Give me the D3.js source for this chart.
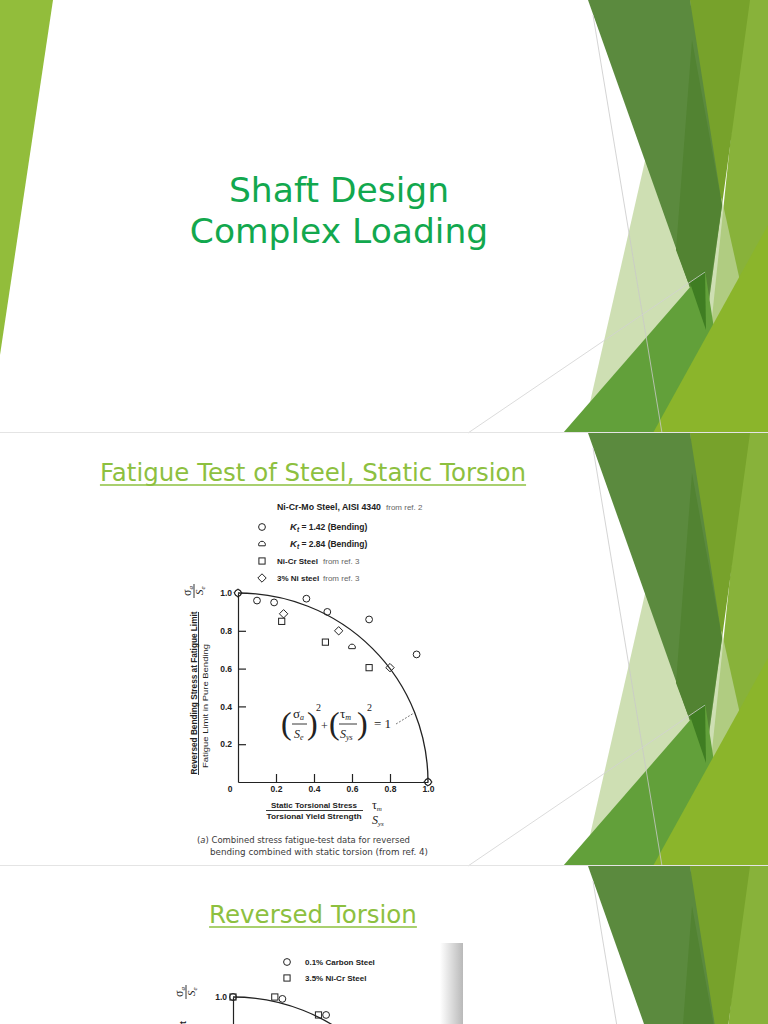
<!DOCTYPE html>
<html>
<head>
<meta charset="utf-8">
<script src="https://cdn.jsdelivr.net/npm/d3@7"></script>
<style>
  body { margin: 0; overflow: hidden; background: #fff; }
  svg { display: block; }
</style>
</head>
<body>
<div id="page"></div>
<script>
// chart 1 : bending + static torsion
const kt142X = [0, 0.1, 0.19, 0.36, 0.47, 0.69, 0.94, 1.0]
const kt142Y = [1.0, 0.96, 0.95, 0.97, 0.9, 0.86, 0.675, 0]
const kt284X = [0.6]
const kt284Y = [0.715]
const niCrX = [0.23, 0.46, 0.69]
const niCrY = [0.85, 0.74, 0.605]
const ni3X = [0, 0.24, 0.53, 0.8, 1.0]
const ni3Y = [1.0, 0.89, 0.8, 0.605, 0]
const xTicks = [0.2, 0.4, 0.6, 0.8, 1.0]
const yTicks = [0.2, 0.4, 0.6, 0.8, 1.0]

// chart 2 : reversed torsion (only the top is visible)
const carbonX = [0, 0.26, 0.49]
const carbonY = [1.0, 0.99, 0.905]
const niCr35X = [0, 0.22, 0.45]
const niCr35Y = [1.0, 1.0, 0.905]
const y2Ticks = [1.0]

const W = 768
const H = 1024
const slideTops = [0, 433, 866]

const svg = d3
  .select('#page')
  .append('svg')
  .attr('width', W)
  .attr('height', H)

// ---------- slide decoration ----------
const deco = [
  { pts: [[745, 0], [768, 0], [768, 433], [700, 433]], fill: '#88b23a' },
  { pts: [[690, 0], [750, 0], [722, 205], [705, 330]], fill: '#77a22b' },
  { pts: [[668, 60], [722, 200], [742, 290], [700, 433], [583, 433]], fill: '#bdd49a', op: 0.75 },
  { pts: [[588, 0], [690, 0], [722, 205], [705, 330]], fill: '#5b8a3e' },
  { pts: [[692, 40], [722, 205], [704, 325], [676, 250]], fill: '#528332' },
  { pts: [[563, 433], [705, 270], [730, 433]], fill: '#62a03a' },
  { pts: [[690, 283], [705, 270], [706, 330]], fill: '#3f7d22' },
  { pts: [[768, 225], [653, 433], [768, 433]], fill: '#8bb52b' }
]

slideTops.forEach((top, i) => {
  const g = svg.append('g').attr('transform', 'translate(0,' + top + ')')
  if (i > 0) {
    g.append('line')
      .attr('x1', 0).attr('x2', W)
      .attr('y1', -0.5).attr('y2', -0.5)
      .attr('stroke', '#e4e4e4')
  }
  if (i === 0) {
    g.append('polygon')
      .attr('points', '0,0 53,0 0,355')
      .attr('fill', '#92bd3b')
  }
  g.selectAll('.deco')
    .data(deco)
    .enter()
    .append('polygon')
    .attr('class', 'deco')
    .attr('points', d => d.pts.map(p => p.join(',')).join(' '))
    .attr('fill', d => d.fill)
    .attr('opacity', d => d.op || 1)
  g.append('line')
    .attr('x1', 593).attr('y1', 15).attr('x2', 662).attr('y2', 433)
    .attr('stroke', '#c9c9c9').attr('stroke-width', 0.8)
  g.append('line')
    .attr('x1', 468).attr('y1', 433).attr('x2', 705).attr('y2', 272)
    .attr('stroke', '#d2d2d2').attr('stroke-width', 0.8)
  g.append('line')
    .attr('x1', 563).attr('x2', W)
    .attr('y1', 432.5).attr('y2', 432.5)
    .attr('stroke', '#6f7f60').attr('stroke-width', 1)
})

// ---------- titles ----------
const titleFont = "'DejaVu Sans', Verdana, sans-serif"
svg.append('text')
  .attr('x', 339).attr('y', 202)
  .attr('text-anchor', 'middle')
  .attr('font-family', titleFont)
  .attr('font-size', 34.5)
  .attr('fill', '#12a84e')
  .text('Shaft Design')
svg.append('text')
  .attr('x', 339).attr('y', 243)
  .attr('text-anchor', 'middle')
  .attr('font-family', titleFont)
  .attr('font-size', 34.5)
  .attr('fill', '#12a84e')
  .text('Complex Loading')

function heading(txt, cx, baseline) {
  const t = svg.append('text')
    .attr('x', cx).attr('y', baseline)
    .attr('text-anchor', 'middle')
    .attr('font-family', titleFont)
    .attr('font-size', 24.5)
    .attr('fill', '#8dc03f')
    .text(txt)
  const w = t.node().getComputedTextLength()
  svg.append('line')
    .attr('x1', cx - w / 2).attr('x2', cx + w / 2)
    .attr('y1', baseline + 4).attr('y2', baseline + 4)
    .attr('stroke', '#8dc03f').attr('stroke-width', 1.5)
}
heading('Fatigue Test of Steel, Static Torsion', 313, 481)
heading('Reversed Torsion', 313, 923)

// ---------- marker helpers ----------
const ink = '#222'
const scanFont = "'Liberation Sans', Arial, sans-serif"
const serif = "'Liberation Serif', 'Times New Roman', serif"

function marker(sel, kind) {
  if (kind === 'circle') {
    sel.append('circle').attr('r', 3.4)
  } else if (kind === 'square') {
    sel.append('rect').attr('x', -3.1).attr('y', -3.1).attr('width', 6.2).attr('height', 6.2)
  } else if (kind === 'diamond') {
    sel.append('path').attr('d', 'M0,-4.2L4.2,0L0,4.2L-4.2,0Z')
  } else {
    sel.append('path').attr('d', 'M-3.2,1.8A3.4,3.4 0 1 1 3.2,1.8Z')
  }
  sel.selectAll('circle,rect,path')
    .attr('fill', 'none')
    .attr('stroke', ink)
    .attr('stroke-width', 1)
}

function plotSeries(g, xs, ys, xScale, yScale, kind) {
  const pts = xs.map((v, i) => ({ x: v, y: ys[i] }))
  g.selectAll('.pt-' + kind + xs.length)
    .data(pts)
    .enter()
    .append('g')
    .attr('class', 'pt-' + kind + xs.length)
    .attr('transform', d => 'translate(' + xScale(d.x) + ',' + yScale(d.y) + ')')
    .each(function() { marker(d3.select(this), kind) })
}

function styleAxis(g) {
  g.attr('font-family', scanFont).attr('font-size', 8.5).attr('font-weight', 'bold')
  g.selectAll('path,line').attr('stroke', ink).attr('stroke-width', 1.2)
  g.selectAll('text').attr('fill', ink)
}

function quarterCurve(g, xScale, yScale) {
  const rx = xScale(1) - xScale(0)
  const ry = yScale(0) - yScale(1)
  g.append('path')
    .attr('d', 'M' + xScale(0) + ',' + yScale(1) +
      'A' + rx + ',' + ry + ' 0 0 1 ' + xScale(1) + ',' + yScale(0))
    .attr('fill', 'none')
    .attr('stroke', ink)
    .attr('stroke-width', 1.3)
}

// ---------- chart 1 ----------
const c1 = svg.append('g')

const x1 = d3.scaleLinear().domain([0, 1]).range([238, 428])
const y1 = d3.scaleLinear().domain([0, 1]).range([782, 593])

// legend
const legRows = [
  { kind: 'circle', y: 527 },
  { kind: 'flat', y: 544 },
  { kind: 'square', y: 561 },
  { kind: 'diamond', y: 578 }
]
legRows.forEach(r => {
  const m = c1.append('g').attr('transform', 'translate(262,' + r.y + ')')
  marker(m, r.kind)
})
c1.append('text')
  .attr('x', 277).attr('y', 510)
  .attr('font-family', scanFont).attr('font-size', 8.5).attr('font-weight', 'bold')
  .attr('fill', ink)
  .attr('textLength', 104).attr('lengthAdjust', 'spacingAndGlyphs')
  .text('Ni-Cr-Mo Steel, AISI 4340')
c1.append('text')
  .attr('x', 386).attr('y', 510)
  .attr('font-family', scanFont).attr('font-size', 8).attr('fill', '#666')
  .text('from ref. 2')

function ktRow(val, yb) {
  const t = c1.append('text')
    .attr('x', 290).attr('y', yb)
    .attr('font-family', scanFont).attr('font-size', 8.5).attr('font-weight', 'bold')
    .attr('fill', ink)
  t.append('tspan').attr('font-style', 'italic').attr('font-size', 9.5).text('K')
  t.append('tspan').attr('font-style', 'italic').attr('font-size', 6.5).attr('dy', 2).text('t')
  t.append('tspan').attr('dy', -2).text(' = ' + val + ' (Bending)')
}
ktRow('1.42', 530)
ktRow('2.84', 547)

c1.append('text')
  .attr('x', 277).attr('y', 564)
  .attr('font-family', scanFont).attr('font-size', 8).attr('font-weight', 'bold')
  .attr('fill', ink).text('Ni-Cr Steel')
c1.append('text')
  .attr('x', 323).attr('y', 564)
  .attr('font-family', scanFont).attr('font-size', 8).attr('fill', '#666')
  .text('from ref. 3')
c1.append('text')
  .attr('x', 277).attr('y', 581)
  .attr('font-family', scanFont).attr('font-size', 8).attr('font-weight', 'bold')
  .attr('fill', ink).text('3% Ni steel')
c1.append('text')
  .attr('x', 323).attr('y', 581)
  .attr('font-family', scanFont).attr('font-size', 8).attr('fill', '#666')
  .text('from ref. 3')

// axes
const xAxis1 = d3
  .axisBottom(x1)
  .tickValues(xTicks)
  .tickFormat(d3.format('.1f'))
  .tickSizeInner(-8)
  .tickSizeOuter(0)
  .tickPadding(4)
const gx1 = c1.append('g')
  .attr('transform', 'translate(0,' + y1(0) + ')')
  .call(xAxis1)
styleAxis(gx1)
gx1.selectAll('.tick line').filter(d => d === 1).remove()
gx1.append('text')
  .attr('x', x1(0) - 8).attr('y', 4).attr('dy', '0.71em')
  .attr('text-anchor', 'middle').attr('fill', ink)
  .text('0')

const yAxis1 = d3
  .axisLeft(y1)
  .tickValues(yTicks)
  .tickFormat(d3.format('.1f'))
  .tickSizeInner(-8)
  .tickSizeOuter(0)
  .tickPadding(6)
const gy1 = c1.append('g')
  .attr('transform', 'translate(' + x1(0) + ',0)')
  .call(yAxis1)
styleAxis(gy1)
gy1.selectAll('.tick line').filter(d => d === 1).remove()

quarterCurve(c1, x1, y1)

plotSeries(c1, kt142X, kt142Y, x1, y1, 'circle')
plotSeries(c1, kt284X, kt284Y, x1, y1, 'flat')
plotSeries(c1, niCrX, niCrY, x1, y1, 'square')
plotSeries(c1, ni3X, ni3Y, x1, y1, 'diamond')

// equation
const eq = c1.append('g').attr('font-family', serif).attr('fill', ink)
eq.append('text').attr('x', 281).attr('y', 734).attr('font-size', 32).attr('font-weight', 300).text('(')
eq.append('text').attr('x', 293).attr('y', 718).attr('font-size', 13).html('σ<tspan font-size="8" font-style="italic" dy="2">a</tspan>')
eq.append('line').attr('x1', 292).attr('x2', 307).attr('y1', 724).attr('y2', 724).attr('stroke', ink).attr('stroke-width', 0.9)
eq.append('text').attr('x', 294).attr('y', 738).attr('font-size', 12).attr('font-style', 'italic').html('S<tspan font-size="8" dy="2">e</tspan>')
eq.append('text').attr('x', 307).attr('y', 734).attr('font-size', 32).attr('font-weight', 300).text(')')
eq.append('text').attr('x', 316).attr('y', 711).attr('font-size', 10).text('2')
eq.append('text').attr('x', 321).attr('y', 730).attr('font-size', 12).text('+')
eq.append('text').attr('x', 329).attr('y', 734).attr('font-size', 32).attr('font-weight', 300).text('(')
eq.append('text').attr('x', 340).attr('y', 718).attr('font-size', 13).html('τ<tspan font-size="8" font-style="italic" dy="2">m</tspan>')
eq.append('line').attr('x1', 339).attr('x2', 357).attr('y1', 724).attr('y2', 724).attr('stroke', ink).attr('stroke-width', 0.9)
eq.append('text').attr('x', 340).attr('y', 738).attr('font-size', 12).attr('font-style', 'italic').html('S<tspan font-size="8" dy="2">ys</tspan>')
eq.append('text').attr('x', 357).attr('y', 734).attr('font-size', 32).attr('font-weight', 300).text(')')
eq.append('text').attr('x', 367).attr('y', 711).attr('font-size', 10).text('2')
eq.append('text').attr('x', 374).attr('y', 728).attr('font-size', 13).text('= 1')
eq.append('line')
  .attr('x1', 396).attr('y1', 724).attr('x2', 414).attr('y2', 713)
  .attr('stroke', '#555').attr('stroke-width', 0.8).attr('stroke-dasharray', '2,1.5')

// y label (rotated)
c1.append('text')
  .attr('transform', 'translate(196.5,693) rotate(-90)')
  .attr('text-anchor', 'middle')
  .attr('font-family', scanFont).attr('font-size', 8.5).attr('font-weight', 'bold')
  .attr('fill', ink)
  .attr('textLength', 163).attr('lengthAdjust', 'spacingAndGlyphs')
  .text('Reversed Bending Stress at Fatigue Limit')
c1.append('line')
  .attr('x1', 198.5).attr('x2', 198.5).attr('y1', 612).attr('y2', 775)
  .attr('stroke', ink).attr('stroke-width', 0.9)
c1.append('text')
  .attr('transform', 'translate(207.5,706) rotate(-90)')
  .attr('text-anchor', 'middle')
  .attr('font-family', scanFont).attr('font-size', 8)
  .attr('fill', ink)
  .attr('textLength', 124).attr('lengthAdjust', 'spacingAndGlyphs')
  .text('Fatigue Limit in Pure Bending')

function rotFrac(g, cx, cy, top, topSub, bot, botSub) {
  const f = g.append('g')
    .attr('transform', 'translate(' + cx + ',' + cy + ') rotate(-90)')
    .attr('font-family', serif).attr('fill', ink)
  f.append('text').attr('x', -5).attr('y', -3).attr('font-size', 12)
    .html(top + '<tspan font-size="7" font-style="italic" dy="2">' + topSub + '</tspan>')
  f.append('line').attr('x1', -7).attr('x2', 7).attr('y1', 0).attr('y2', 0)
    .attr('stroke', ink).attr('stroke-width', 0.9)
  f.append('text').attr('x', -4).attr('y', 9).attr('font-size', 11).attr('font-style', 'italic')
    .html(bot + '<tspan font-size="7" dy="2">' + botSub + '</tspan>')
}
rotFrac(c1, 194, 591, 'σ', 'a', 'S', 'e')

// x label
c1.append('text')
  .attr('x', 314).attr('y', 808)
  .attr('text-anchor', 'middle')
  .attr('font-family', scanFont).attr('font-size', 7.5).attr('font-weight', 'bold')
  .attr('fill', ink)
  .attr('textLength', 86).attr('lengthAdjust', 'spacingAndGlyphs')
  .text('Static Torsional Stress')
c1.append('line')
  .attr('x1', 266).attr('x2', 363).attr('y1', 810.5).attr('y2', 810.5)
  .attr('stroke', ink).attr('stroke-width', 0.9)
c1.append('text')
  .attr('x', 314).attr('y', 818.5)
  .attr('text-anchor', 'middle')
  .attr('font-family', scanFont).attr('font-size', 7.5).attr('font-weight', 'bold')
  .attr('fill', ink)
  .attr('textLength', 95).attr('lengthAdjust', 'spacingAndGlyphs')
  .text('Torsional Yield Strength')
c1.append('text')
  .attr('x', 372).attr('y', 809)
  .attr('font-family', serif).attr('font-size', 12).attr('fill', ink)
  .html('τ<tspan font-size="7" font-style="italic" dy="2">m</tspan>')
c1.append('text')
  .attr('x', 372).attr('y', 824)
  .attr('font-family', serif).attr('font-size', 12).attr('font-style', 'italic').attr('fill', ink)
  .html('S<tspan font-size="7" dy="2">ys</tspan>')

// caption
c1.append('text')
  .attr('x', 197).attr('y', 843)
  .attr('font-family', "'DejaVu Sans', sans-serif").attr('font-size', 8.6)
  .attr('fill', '#3a3a3a')
  .attr('textLength', 213).attr('lengthAdjust', 'spacingAndGlyphs')
  .html('(<tspan font-style="italic">a</tspan>)  Combined stress fatigue-test data for reversed')
c1.append('text')
  .attr('x', 210).attr('y', 855)
  .attr('font-family', "'DejaVu Sans', sans-serif").attr('font-size', 8.6)
  .attr('fill', '#3a3a3a')
  .attr('textLength', 218).attr('lengthAdjust', 'spacingAndGlyphs')
  .text('bending combined with static torsion (from ref. 4)')

// ---------- chart 2 (reversed torsion, cut off by the page) ----------
const defs = svg.append('defs')
const grad = defs.append('linearGradient').attr('id', 'scanEdge')
grad.append('stop').attr('offset', '0%').attr('stop-color', '#ffffff')
grad.append('stop').attr('offset', '100%').attr('stop-color', '#b9b9b9')
svg.append('rect')
  .attr('x', 440).attr('y', 943).attr('width', 23).attr('height', 81)
  .attr('fill', 'url(#scanEdge)')

const c2 = svg.append('g')
const x2 = d3.scaleLinear().domain([0, 1]).range([233, 423])
const y2 = d3.scaleLinear().domain([0, 1]).range([997 + 189, 997])

c2.append('g').attr('transform', 'translate(287,962)').call(g => marker(g, 'circle'))
c2.append('g').attr('transform', 'translate(287,978)').call(g => marker(g, 'square'))
c2.append('text')
  .attr('x', 305).attr('y', 965)
  .attr('font-family', scanFont).attr('font-size', 8).attr('font-weight', 'bold')
  .attr('fill', ink).text('0.1% Carbon Steel')
c2.append('text')
  .attr('x', 305).attr('y', 981)
  .attr('font-family', scanFont).attr('font-size', 8).attr('font-weight', 'bold')
  .attr('fill', ink).text('3.5% Ni-Cr Steel')

const yAxis2 = d3
  .axisLeft(y2)
  .tickValues(y2Ticks)
  .tickFormat(d3.format('.1f'))
  .tickSize(0)
  .tickPadding(6)
const gy2 = c2.append('g')
  .attr('transform', 'translate(' + x2(0) + ',0)')
  .call(yAxis2)
styleAxis(gy2)

quarterCurve(c2, x2, y2)
plotSeries(c2, carbonX, carbonY, x2, y2, 'circle')
plotSeries(c2, niCr35X, niCr35Y, x2, y2, 'square')

rotFrac(c2, 186, 992, 'σ', 'a', 'S', 'e')
c2.append('text')
  .attr('transform', 'translate(186,1024) rotate(-90)')
  .attr('text-anchor', 'start')
  .attr('font-family', scanFont).attr('font-size', 8.5).attr('font-weight', 'bold')
  .attr('fill', ink)
  .text('t')
</script>
</body>
</html>
